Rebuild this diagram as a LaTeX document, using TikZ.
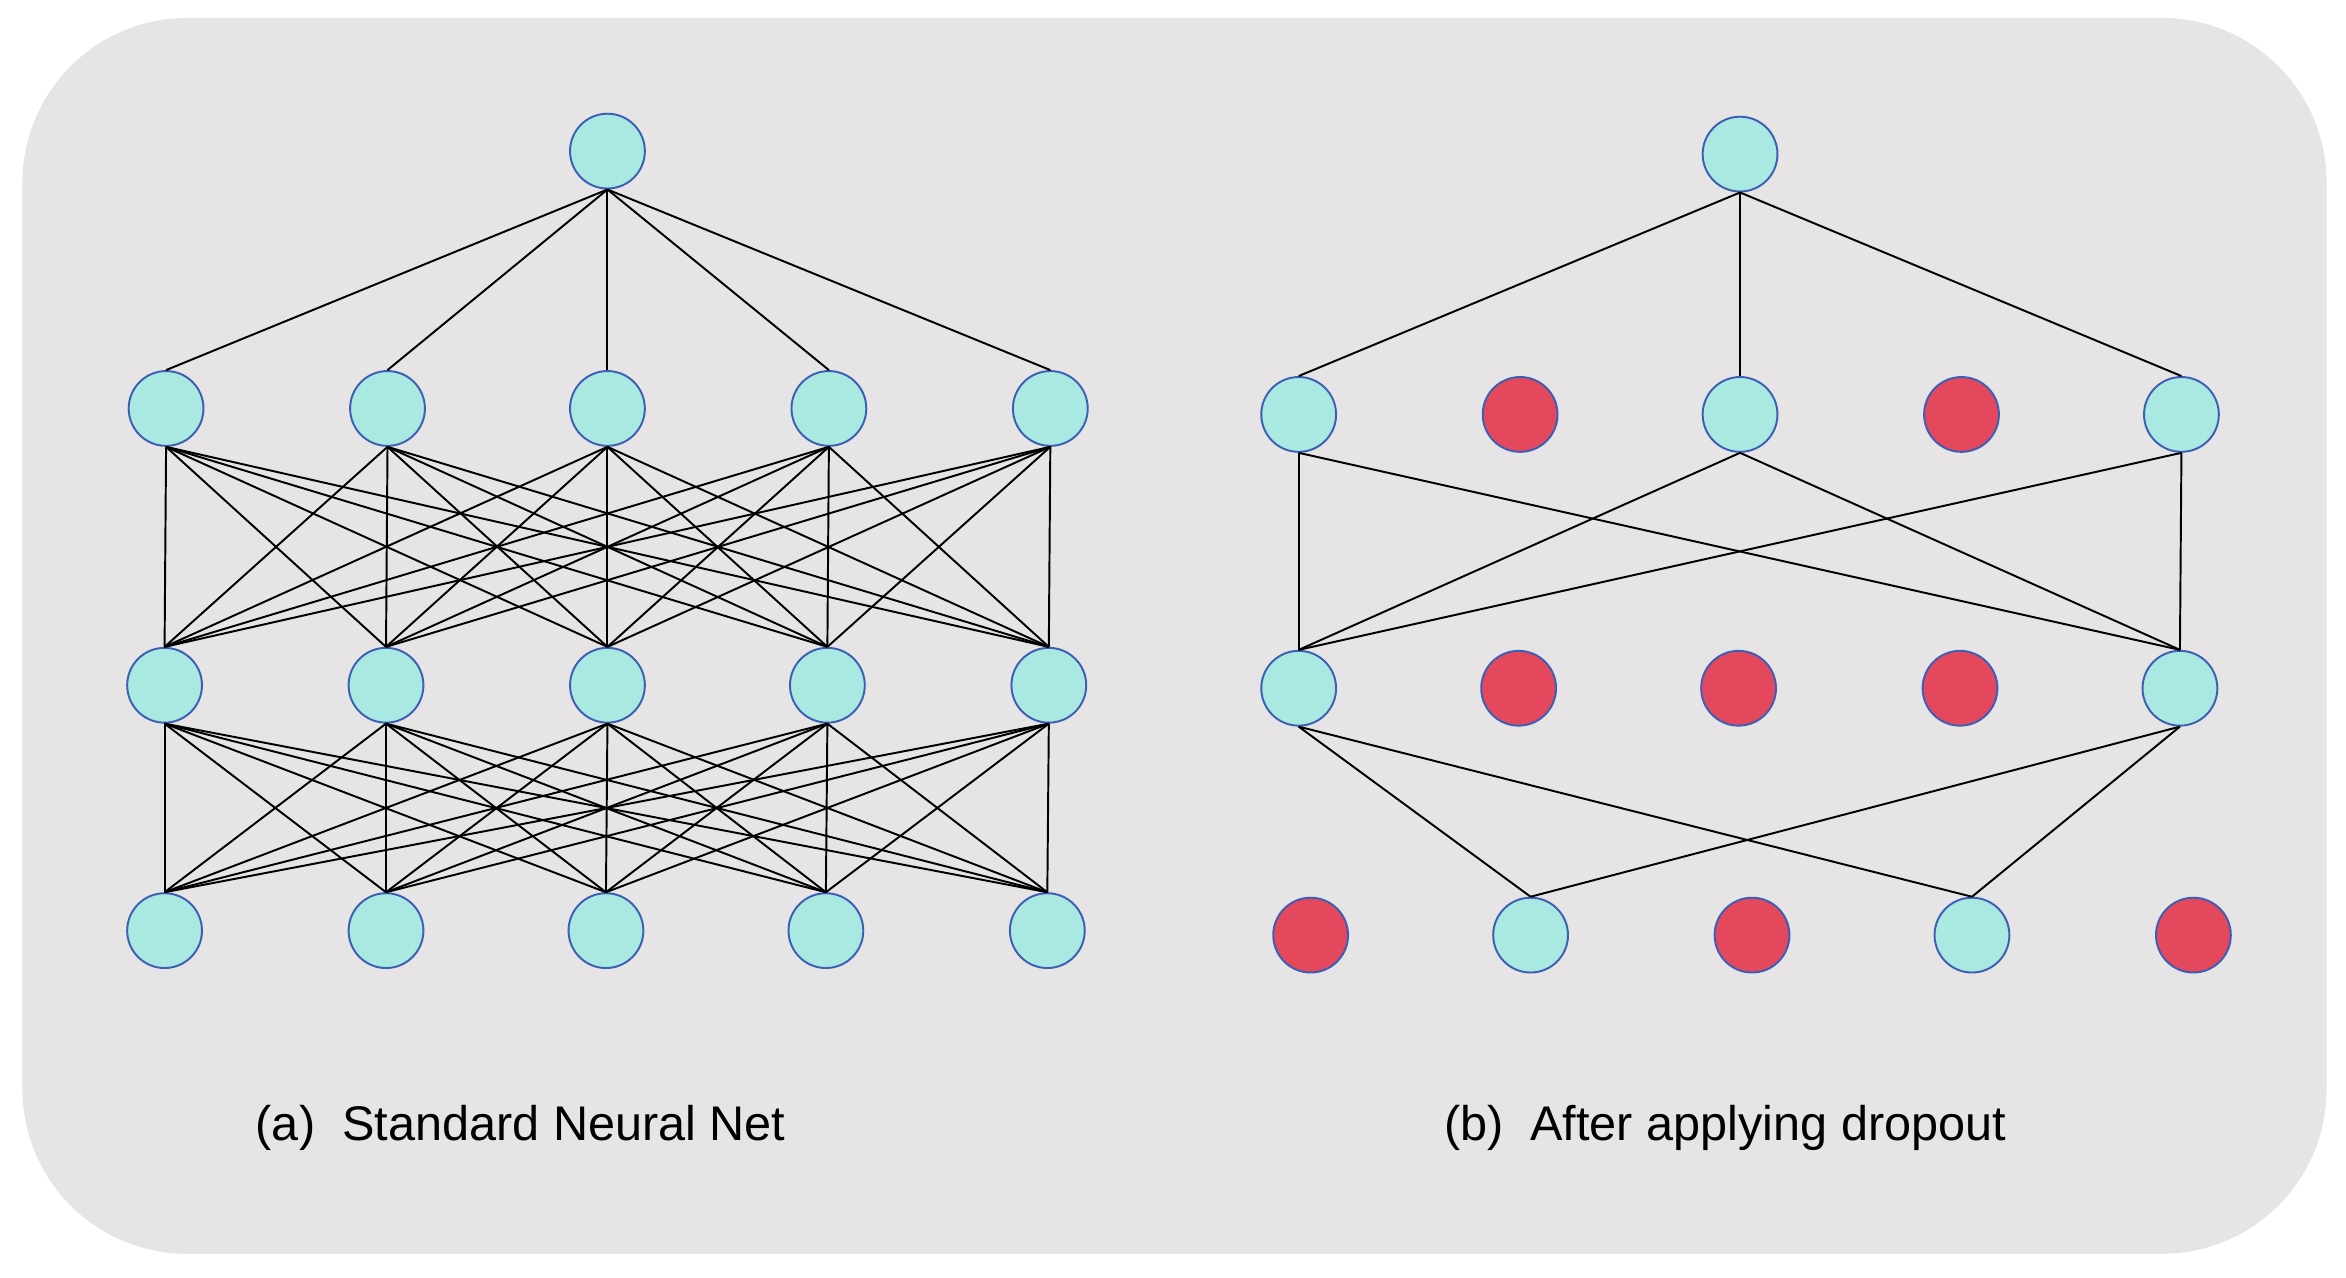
\documentclass[tikz,border=0pt]{standalone}
\usepackage{fontspec}
\setmainfont{Liberation Sans}
\definecolor{bg}{RGB}{230,228,229}
\definecolor{cy}{RGB}{170,232,226}
\definecolor{rd}{RGB}{228,72,92}
\definecolor{bd}{RGB}{60,95,180}
\begin{document}
\begin{tikzpicture}[x=1pt,y=-1pt,
  n/.style={circle,draw=bd,line width=1.3pt,minimum size=50pt,inner sep=0pt,fill=cy},
  d/.style={n,fill=rd},
  e/.style={line width=1.3pt,black},
  lab/.style={font=\fontsize{32.5}{38}\selectfont,anchor=center}]
\useasboundingbox (0,0) rectangle (1568,853.6);
\fill[bg,rounded corners=110pt] (15,12) rectangle (1555,838);
% left
\node[n] (t) at (406,101) {};
\foreach \x [count=\i] in {111,259,406,554,702} {\node[n] (a\i) at (\x,273) {};}
\foreach \x [count=\i] in {110,258,406,553,701} {\node[n] (b\i) at (\x,458) {};}
\foreach \x [count=\i] in {110,258,405,552,700} {\node[n] (c\i) at (\x,622) {};}
\foreach \i in {1,...,5} {\draw[e] (t.south) -- (a\i.north);
  \foreach \j in {1,...,5} {\draw[e] (a\i.south) -- (b\j.north); \draw[e] (b\i.south) -- (c\j.north);}}
% right
\node[n] (T) at (1163,103) {};
\node[n] (A1) at (868,277) {}; \node[d] (A2) at (1016,277) {};
\node[n] (A3) at (1163,277) {}; \node[d] (A4) at (1311,277) {};
\node[n] (A5) at (1458,277) {};
\node[n] (B1) at (868,460) {}; \node[d] (B2) at (1015,460) {};
\node[d] (B3) at (1162,460) {}; \node[d] (B4) at (1310,460) {};
\node[n] (B5) at (1457,460) {};
\node[d] (C1) at (876,625) {}; \node[n] (C2) at (1023,625) {};
\node[d] (C3) at (1171,625) {}; \node[n] (C4) at (1318,625) {};
\node[d] (C5) at (1466,625) {};
\foreach \i in {1,3,5} {\draw[e] (T.south) -- (A\i.north);
  \draw[e] (A\i.south) -- (B1.north); \draw[e] (A\i.south) -- (B5.north);}
\foreach \i in {1,5} {\draw[e] (B\i.south) -- (C2.north); \draw[e] (B\i.south) -- (C4.north);}
\node[lab] (la) at (348,754) {(a)\ \ Standard Neural Net};
\node[lab] (lb) at (1153,754) {(b)\ \ After applying dropout};
\end{tikzpicture}
\end{document}
